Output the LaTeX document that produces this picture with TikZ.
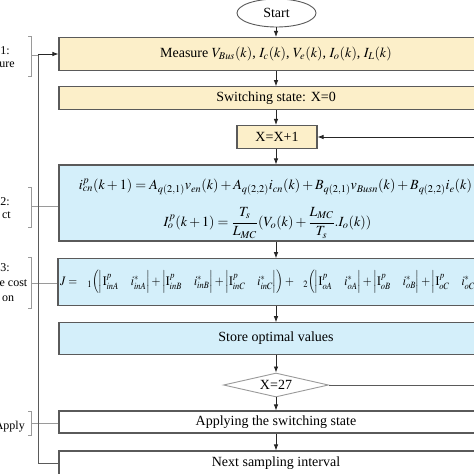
\documentclass[tikz,border=0pt]{standalone}
\usepackage{amsmath}
\usepackage{graphicx}
\usepackage{mathptmx}
\usepackage{fontspec}
\setmainfont{Liberation Serif}
\usetikzlibrary{shapes.geometric,arrows.meta}
\definecolor{boxyel}{HTML}{FCEFC9}
\definecolor{boxblu}{HTML}{D4EFFA}
\definecolor{edgec}{HTML}{5A5A5A}
\definecolor{brkc}{HTML}{9A9A9A}
\begin{document}
\begin{tikzpicture}[x=1pt,y=-1pt,
  box/.style={draw=edgec, line width=1.1pt, minimum width=434pt, inner sep=0pt, font=\fontsize{14}{16}\selectfont},
  arr/.style={-{Latex[length=6pt,width=4.5pt]}, line width=0.8pt, draw=black!85},
  loopline/.style={line width=0.9pt, draw=edgec},
  brk/.style={draw=brkc, line width=0.7pt},
  frag/.style={anchor=base east, inner sep=0pt, font=\fontsize{12}{14}\selectfont}]
\clip (0,0) rectangle (474,474);
\fill[white] (0,0) rectangle (474,474);
% nodes
\node[ellipse, draw=edgec, line width=0.9pt, minimum width=79pt, minimum height=28pt, inner sep=0pt, font=\fontsize{14}{16}\selectfont] (start) at (276.5,13) {Start};
\node[box, fill=boxyel, minimum height=33pt] (meas) at (276,54) {Measure $V_{Bus}(k)$, $I_{c}(k)$, $V_{e}(k)$, $I_{o}(k)$, $I_{L}(k)$};
\node[box, fill=boxyel, minimum height=22.5pt] (sw) at (276,98) {Switching state: X=0};
\node[draw=edgec, fill=boxyel, line width=1.1pt, minimum width=80pt, minimum height=23pt, inner sep=0pt, font=\fontsize{14}{16}\selectfont] (inc) at (277,137) {X=X+1};
\node[box, fill=boxblu, minimum height=76pt] (eq) at (276,203) {};
\node[inner sep=0pt, font=\fontsize{14}{16}\selectfont] (eqa) at (275.5,187) {$i^{p}_{cn}(k+1)=A_{q(2,1)}v_{en}(k)+A_{q(2,2)}i_{cn}(k)+B_{q(2,1)}v_{Busn}(k)+B_{q(2,2)}i_{e}(k)$};
\node[inner sep=0pt, font=\fontsize{14}{16}\selectfont] (eqb) at (267.5,223) {$I^{p}_{o}(k+1)=\dfrac{T_{s}}{L_{MC}}(V_{o}(k)+\dfrac{L_{MC}}{T_{s}}.I_{o}(k))$};
\node[box, fill=boxblu, minimum height=46.5pt, minimum width=436pt] (jb) at (276,282) {};
\node[anchor=west, inner sep=0pt, font=\fontsize{13}{15}\selectfont] (jeq) at (60,282) {\scalebox{0.88}[1]{$J=\phantom{\lambda}_{1}\Bigl(\Bigl|\mathrm{I}^{p}_{inA}\mathbin{\phantom{-}}i^{*}_{inA}\Bigr|+\Bigl|\mathrm{I}^{p}_{inB}\mathbin{\phantom{-}}i^{*}_{inB}\Bigr|+\Bigl|\mathrm{I}^{p}_{inC}\mathbin{\phantom{-}}i^{*}_{inC}\Bigr|\Bigr)+\phantom{\lambda}_{2}\Bigl(\Bigl|\mathrm{I}^{p}_{oA}\mathbin{\phantom{-}}i^{*}_{oA}\Bigr|+\Bigl|\mathrm{I}^{p}_{oB}\mathbin{\phantom{-}}i^{*}_{oB}\Bigr|+\Bigl|\mathrm{I}^{p}_{oC}\mathbin{\phantom{-}}i^{*}_{oC}\Bigr|\Bigr)$}};
\node[box, fill=boxblu, minimum height=31.5pt] (st) at (276,338.5) {Store optimal values};
\node[diamond, draw=brkc, line width=0.9pt, shape aspect=4.4, minimum width=105pt, minimum height=24pt, inner sep=0pt, font=\fontsize{14}{16}\selectfont] (dec) at (276,385) {X=27};
\node[box, fill=white, minimum height=22pt] (app) at (276,422) {Applying the switching state};
\node[box, fill=white, minimum height=24pt] (nxt) at (276,463) {Next sampling interval};
% left label fragments
\node[frag] (l1a) at (10,54.5) {1:};
\node[frag] (l1b) at (15,67) {ure};
\node[frag] (l2a) at (10,205.5) {2:};
\node[frag] (l2b) at (11,218.5) {ct};
\node[frag] (l3a) at (10,271.5) {3:};
\node[frag] (l3b) at (27.5,286.5) {e cost};
\node[frag] (l3c) at (14.3,301) {on};
\node[frag] (l4a) at (25,429) {Apply};
% coordinates
\coordinate (lx) at (38,0);
\coordinate (rx) at (492,0);
% brackets
\draw[brk] (28,36) -- (31.7,36) -- (31.7,76) -- (28,76);
\draw[brk] (28,187) -- (31.7,187) -- (31.7,227) -- (28,227);
\draw[brk] (28,257.5) -- (31.7,257.5) -- (31.7,308.5) -- (28,308.5);
\draw[brk] (28,411.5) -- (31.7,411.5) -- (31.7,435) -- (28,435);
\coordinate (b1) at (31.7,55);
\coordinate (b2) at (31.7,206);
\coordinate (b3) at (31.7,283);
\coordinate (b4) at (31.7,423);
\draw[brk] (b1) -- (b1 -| lx);
\draw[brk] (b2) -- (b2 -| eq.west);
\draw[brk] (b3) -- (b3 -| jb.west);
\draw[brk] (b4) -- (b4 -| app.west);
% flow arrows
\draw[arr] (start.south -| meas.north) -- (meas.north);
\draw[arr] (meas.south) -- (sw.north);
\draw[arr] (sw.south) -- (sw.south |- inc.north);
\draw[arr] (inc.south -| eq.north) -- (eq.north);
\draw[arr] (eq.south) -- (eq.south |- jb.north);
\draw[arr] (jb.south -| st.north) -- (st.north);
\draw[arr] (st.south) -- (dec.north);
\draw[arr] (dec.south) -- (app.north);
\draw[arr] (app.south) -- (nxt.north);
% loops
\draw[loopline] (dec.east) -- (dec.east -| rx) -- (rx |- inc.east);
\draw[arr] (rx |- inc.east) -- (inc.east);
\draw[loopline] (nxt.west) -- (nxt.west -| lx) -- (lx |- meas.west);
\draw[arr] (lx |- meas.west) -- (meas.west);
\end{tikzpicture}
\end{document}
